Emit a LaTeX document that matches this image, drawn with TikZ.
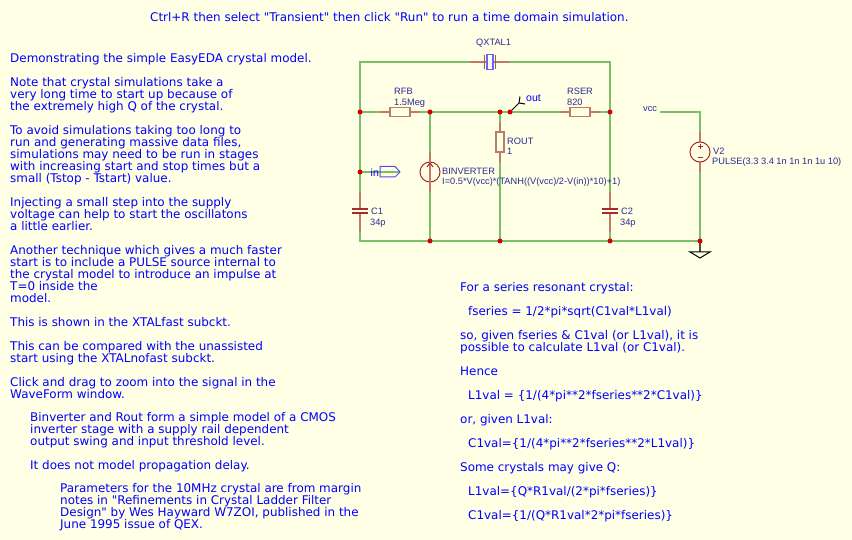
\documentclass[tikz,border=0pt]{standalone}
\usepackage{fontspec}
\usetikzlibrary{arrows.meta}
\newfontfamily\notefont{DejaVu Sans}
\newfontfamily\schfont{Liberation Sans}
\definecolor{sheet}{HTML}{FFFFE6}
\definecolor{wirecol}{HTML}{7DBE6A}
\definecolor{leadcol}{HTML}{C27A68}
\definecolor{partcol}{HTML}{A52A2A}
\definecolor{labelcol}{HTML}{2A2A96}
\definecolor{notecol}{HTML}{0000FF}
\definecolor{portcol}{HTML}{6040F0}

\begin{document}
\begin{tikzpicture}[x=1pt,y=-1pt]
            \tikzstyle{wire}=[draw=wirecol, line width=1.5pt]
            \tikzstyle{lead}=[draw=leadcol, line width=1.5pt]
            \tikzstyle{part}=[draw=partcol, line width=1pt]
            \tikzstyle{res}=[rectangle, draw=leadcol, line width=1.2pt, fill=sheet,
            inner sep=0pt, minimum width=20pt, minimum height=9pt]
            \tikzstyle{vres}=[res, minimum width=8pt, minimum height=20pt]
            \tikzstyle{src}=[circle, part, fill=sheet, inner sep=0pt, minimum size=20pt]
            \tikzstyle{vert}=[circle, fill=red!85!black, inner sep=0pt, minimum width=5pt]
            \tikzstyle{lab}=[inner sep=0pt, anchor=base west, text=labelcol,
            font=\schfont\fontsize{9.25}{10}\selectfont]
            \tikzstyle{note}=[inner sep=0pt, anchor=north west, align=left, text=notecol,
            font=\notefont\fontsize{11.95}{12}\selectfont]

            \fill[sheet] (0,0) rectangle (852,540);
            \useasboundingbox (0,0) rectangle (852,540);

            % corners and lead ends
            \foreach \n/\x/\y in {tl/360/62, tr/610/62, bl/360/241, vt/700/112, vn/660/112,
                xa/470/62, xb/510/62, ra/380/112, rb/420/112, sa/560/112, sb/600/112,
                oa/500/122, ob/500/162, ba/430/152, bb/430/192, ca/360/192, cb/360/232,
                da/610/192, db/610/232, va/700/132, vb/700/172, pn/400/172,
                gt/700/252, oe/519/103}
            \coordinate (\n) at (\x,\y);

            \foreach \n/\x/\y in {na/360/112, nb/430/112, nc/500/112, nd/510/112, ne/610/112,
                nf/360/172, ng/430/241, nh/500/241, ni/610/241, nj/700/241}
            \coordinate (\n) at (\x,\y);

            % wires
            \draw[wire] (xa) -- (tl) -- (ca);
            \draw[wire] (xb) -- (tr) -- (da);
            \draw[wire] (na) -- (ra);
            \draw[wire] (rb) -- (nb) -- (nc) -- (nd) -- (sa);
            \draw[wire] (sb) -- (ne);
            \draw[wire] (nc) -- (oa);
            \draw[wire] (ob) -- (nh);
            \draw[wire] (nb) -- (ba);
            \draw[wire] (bb) -- (ng);
            \draw[wire] (cb) -- (bl) -- (nj);
            \draw[wire] (db) -- (ni);
            \draw[wire] (vn) -- (vt) -- (va);
            \draw[wire] (vb) -- (nj);
            \draw[wire] (nf) -- (pn);

            % leads
            \draw[lead] (xa) -- (xb);
            \draw[lead] (ra) -- (rb);
            \draw[lead] (sa) -- (sb);
            \draw[lead] (oa) -- (ob);
            \draw[lead] (ca) -- (cb);
            \draw[lead] (da) -- (db);
            \draw[lead] (va) -- (vb);
            \draw[draw=black!70, line width=1.5pt] (nj) -- (gt);

            % resistors
            \node[res] (rfb) at (400,112) {};
            \node[res] (rser) at (580,112) {};
            \node[vres] (rout) at (500,142) {};

            % crystal
            \node[rectangle, draw=blue!60, line width=1.2pt, fill=sheet, inner sep=0pt,
            minimum width=6pt, minimum height=15pt] (qxtal) at (490,62) {};
            \draw[part, draw=leadcol!80!black, line width=1.5pt] (484.5,55) -- (484.5,69);
            \draw[part, draw=leadcol!80!black, line width=1.5pt] (495.5,55) -- (495.5,69);

            % capacitors
            \foreach \n/\x in {cone/360, ctwo/610} {
            \node[rectangle, fill=sheet, inner sep=0pt, minimum width=16pt, minimum height=4pt] (\n) at (\x,211) {};
            \draw[part, line width=2pt] (\n.north west) -- (\n.north east);
            \draw[part, line width=2pt] (\n.south west) -- (\n.south east);
            }

            % sources
            \node[src] (binv) at (430,172) {};
            \draw[lead] (ba) -- (bb);
            \draw[part] (427,167) -- (430,163) -- (433,167);
            \node[src] (vtwo) at (700,152) {};
            \draw[part] (697.5,146.5) -- (702.5,146.5) (700,144) -- (700,149);
            \draw[part] (697.5,157.5) -- (702.5,157.5);

            % input port, probe, ground
            \draw[draw=portcol, line width=1pt] (380,166.5) -- (395,166.5) -- (pn) -- (395,177) -- (380,177) -- cycle;
            \draw[draw=black, line width=1pt] (nd) -- (oe) -- (520,96.5) (oe) -- (525,104);
            \draw[draw=black, line width=1pt] (690,252) -- (710,252) -- (700,258) -- cycle;

            \foreach \n in {na, nb, nc, nd, ne, nf, ng, nh, ni, nj}
            \node[vert] (v\n) at (\n) {};

            % schematic labels
            \foreach \n/\x/\y/\t in {lq/476/46/QXTAL1, lr/394/95/RFB, lrv/394/105.5/1.5Meg,
                ls/567/95/RSER, lsv/567/105.5/820, lo/507/145/ROUT, lov/507/155/1,
                lb/442/175/BINVERTER, lc/371/215/C1, lcv/370/225.5/34p,
                lct/621/215/C2, lctv/620/225.5/34p, lv/713/155/V2,
                lvv/712/165/{PULSE(3.3 3.4 1n 1n 1n 1u 10)}, lvc/643/112/vcc}
            \node[lab] (\n) at (\x,\y) {\t};
            \node[lab] (lbv) at (442,185) {I=0.5*V(vcc)*(TANH((V(vcc)/2-V(in))*10)+1)};
            \node[lab, text=notecol, font=\schfont\fontsize{10.5}{11}\selectfont] (lin) at (370.5,177) {in};
            \node[lab, text=notecol, font=\schfont\fontsize{10.5}{11}\selectfont] (lout) at (526,102) {out};

            % notes
            \node[note] (top) at (150,12.5) {Ctrl+R then select "Transient" then click "Run" to run a time domain simulation.};
            \node[note] (left) at (10,53) {Demonstrating the simple EasyEDA crystal model.\\[12pt]
                Note that crystal simulations take a\\very long time to start up because of\\the extremely high Q of the crystal.\\[12pt]
                To avoid simulations taking too long to\\run and generating massive data files,\\simulations may need to be run in stages\\with increasing start and stop times but a\\small (Tstop - Tstart) value.\\[12pt]
                Injecting a small step into the supply\\voltage can help to start the oscillatons\\a little earlier.\\[12pt]
                Another technique which gives a much faster\\start is to include a PULSE source internal to\\the crystal model to introduce an impulse at\\T=0 inside the\\model.\\[12pt]
                This is shown in the XTALfast subckt.\\[12pt]
                This can be compared with the unassisted\\start using the XTALnofast subckt.\\[12pt]
                Click and drag to zoom into the signal in the\\WaveForm window.};
            \node[note] (inv) at (30,412.5) {Binverter and Rout form a simple model of a CMOS\\inverter stage with a supply rail dependent\\output swing and input threshold level.\\[12pt]
                It does not model propagation delay.};
            \node[note] (par) at (60,483.5) {Parameters for the 10MHz crystal are from margin\\notes in "Refinements in Crystal Ladder Filter\\Design" by Wes Hayward W7ZOI, published in the\\June 1995 issue of QEX.};
            \node[note] (res) at (460,282.5) {For a series resonant crystal:\\[12pt]
                \hspace*{8pt}fseries = 1/2*pi*sqrt(C1val*L1val)\\[12pt]
                so, given fseries \& C1val (or L1val), it is\\possible to calculate L1val (or C1val).\\[12pt]
                Hence\\[12pt]
                \hspace*{8pt}L1val = \{1/(4*pi**2*fseries**2*C1val)\}\\[12pt]
                or, given L1val:\\[12pt]
                \hspace*{8pt}C1val=\{1/(4*pi**2*fseries**2*L1val)\}\\[12pt]
                Some crystals may give Q:\\[12pt]
                \hspace*{8pt}L1val=\{Q*R1val/(2*pi*fseries)\}\\[12pt]
                \hspace*{8pt}C1val=\{1/(Q*R1val*2*pi*fseries)\}};
        \end{tikzpicture}
\end{document}
